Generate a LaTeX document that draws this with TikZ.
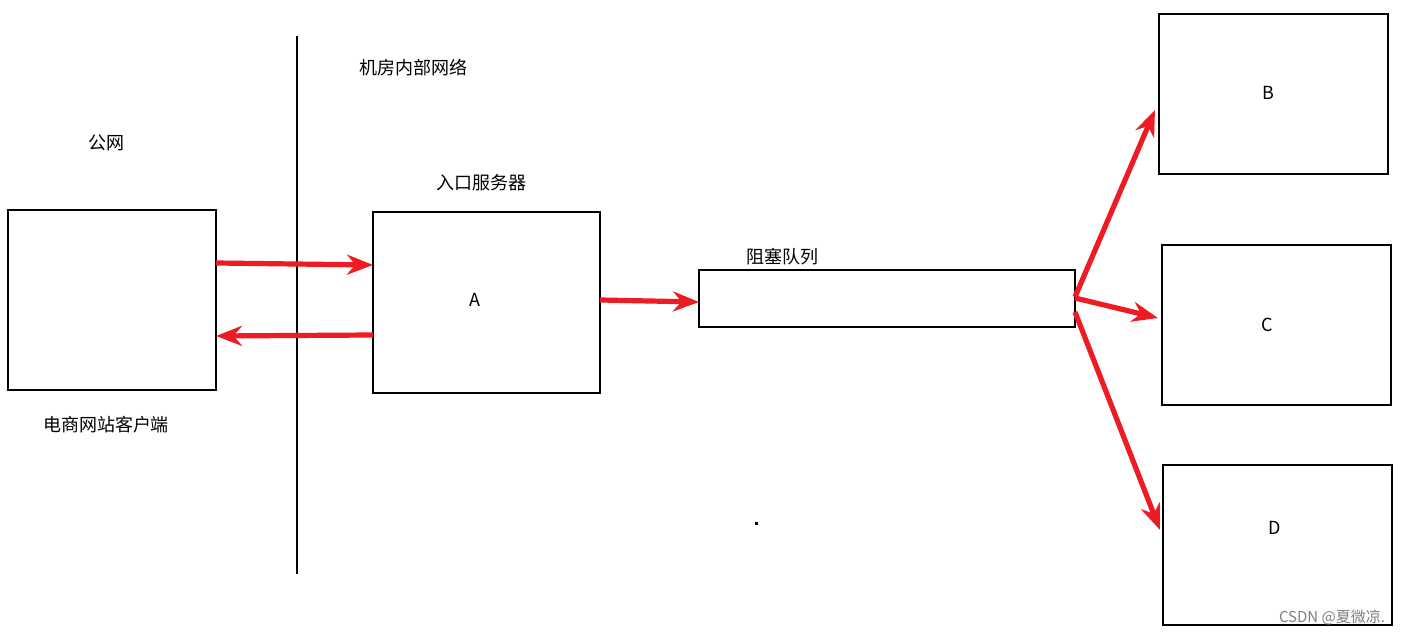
\documentclass[tikz,border=0pt]{standalone}
\usepackage{fontspec}
\setmainfont{Noto Sans CJK SC}
\usetikzlibrary{arrows.meta}
\definecolor{ared}{RGB}{237,28,36}
\begin{document}
\begin{tikzpicture}[x=0.5pt,y=-0.5pt,
  box/.style={draw,line width=1.2pt},
  lbl/.style={font=\fontsize{9}{10}\selectfont,inner sep=0pt},
  arr/.style={draw=ared,line width=2.6pt,-{Stealth[length=13pt,width=10pt]}}]
\useasboundingbox[fill=white] (0,0) rectangle (1405,635);
\draw[box] (8,210) rectangle (216,390);
\draw[box] (373,212) rectangle (600,393);
\draw[box] (699,270) rectangle (1075,327);
\draw[box] (1159,14) rectangle (1388,174);
\draw[box] (1162,245) rectangle (1391,405);
\draw[box] (1163,465) rectangle (1392,625);
\draw[line width=1.2pt] (297,36) -- (297,574);
\node[lbl] (pub) at (106,143) {公网};
\node[lbl] (inner) at (413,68) {机房内部网络};
\node[lbl] (entry) at (481,183) {入口服务器};
\node[lbl] (q) at (782,257) {阻塞队列};
\node[lbl] (cli) at (106,425) {电商网站客户端};
\node[lbl] (A) at (475,300) {A};
\node[lbl] (B) at (1268,93) {B};
\node[lbl] (C) at (1267,325) {C};
\node[lbl] (D) at (1275,528) {D};
\fill (755,522) rectangle (758,525);
\node[lbl,text=gray,font=\fontsize{7.5}{8}\selectfont] (wm) at (1332,617) {CSDN @夏微凉.};
\coordinate (c1) at (216,263); \coordinate (a1) at (373,265);
\coordinate (a2) at (373,335); \coordinate (c2) at (216,336);
\coordinate (a3) at (600,300); \coordinate (q1) at (699,302);
\coordinate (q2) at (1075,297); \coordinate (b1) at (1155,110);
\coordinate (q3) at (1075,298); \coordinate (cc) at (1158,318);
\coordinate (q4) at (1075,312); \coordinate (d1) at (1160,530);
\draw[arr] (c1) -- (a1);
\draw[arr] (a2) -- (c2);
\draw[arr] (a3) -- (q1);
\draw[arr] (q2) -- (b1);
\draw[arr] (q3) -- (cc);
\draw[arr] (q4) -- (d1);
\end{tikzpicture}
\end{document}
